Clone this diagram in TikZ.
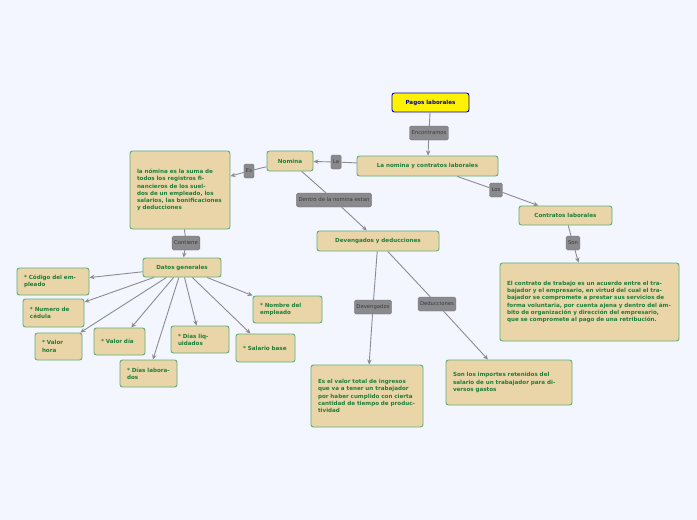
\documentclass[tikz,border=0pt]{standalone}
\usepackage{fontspec}
\setmainfont{DejaVu Sans}
\usetikzlibrary{arrows.meta}
\definecolor{bg}{HTML}{F3F6FE}
\definecolor{boxf}{HTML}{E9D5A8}
\definecolor{boxd}{HTML}{5DAF77}
\definecolor{txtg}{HTML}{1E7F3A}
\definecolor{lblf}{HTML}{8A8A8E}
\definecolor{lblt}{HTML}{3A3A3A}
\definecolor{edge}{HTML}{8C8C90}
\tikzset{
 bx/.style 2 args={draw=boxd,line width=0.9pt,fill=boxf,rounded corners=2.5pt,text=txtg,
   font=\fontsize{5.6}{7.2}\selectfont\bfseries,minimum width=#1,minimum height=#2,
   text width=#1-14,align=left,inner sep=0pt},
 bxc/.style 2 args={bx={#1}{#2},align=center},
 lbl/.style={fill=lblf,draw=lblf!80!black,line width=0.3pt,rounded corners=1.5pt,text=lblt,font=\fontsize{5.3}{6}\selectfont,inner sep=2pt,minimum height=14},
 ln/.style={draw=edge,line width=0.9pt},
 ar/.style={ln,-{Stealth[length=5pt,width=4.5pt]}},
}
\begin{document}
\begin{tikzpicture}[x=1pt,y=-1pt]
\fill[bg] (0,0) rectangle (697,520);
\useasboundingbox (0,0) rectangle (697,520);
\node[bxc={77}{19},draw=blue!70!black,fill=yellow,text=blue!60!black] (pagos) at (430.5,102.5) {Pagos laborales};
\node[lbl] (enc) at (429,133) {Encontramos};
\node[bxc={141}{20}] (lnc) at (427.5,166) {La nomina y contratos laborales};
\node[lbl] (la) at (336,162) {La};
\node[bxc={46}{20}] (nom) at (290,161) {Nomina};
\node[lbl] (es) at (249,171) {Es};
\node[bx={100}{78}] (def) at (180,190) {la nómina es la suma de todos los registros financieros de los sueldos de un empleado, los salarios, las bonificaciones y deducciones};
\node[lbl] (dentro) at (334,200) {Dentro de la nomina estan};
\node[bxc={122}{20}] (dyd) at (378,241) {Devengados y deducciones};
\node[lbl] (los) at (496,190) {Los};
\node[bxc={93}{19}] (con) at (565.5,215.5) {Contratos laborales};
\node[lbl] (son) at (573,243) {Son};
\node[bx={179}{78}] (cdef) at (589.5,302) {El contrato de trabajo es un acuerdo entre el trabajador y el empresario, en virtud del cual el trabajador se compromete a prestar sus servicios de forma voluntaria, por cuenta ajena y dentro del ámbito de organización y dirección del empresario, que se compromete al pago de una retribución.};
\node[lbl] (cont) at (186,243) {Contiene};
\node[bxc={78}{19}] (dat) at (182,267.5) {Datos generales};
\node[bx={72}{27}] (c1) at (53,281.5) {* Código del empleado};
\node[bx={61}{28}] (c2) at (53.5,313) {* Numero de cédula};
\node[bx={47}{27}] (c3) at (58.5,346.5) {* Valor hora};
\node[bx={51}{27}] (c4) at (119.5,341.5) {* Valor día};
\node[bx={57}{27}] (c5) at (148.5,373.5) {* Días laborados};
\node[bx={58}{27}] (c6) at (200,339.5) {* Días liquidados};
\node[bx={59}{28}] (c7) at (265.5,348) {* Salario base};
\node[bx={69}{27}] (c8) at (287.5,309.5) {* Nombre del empleado};
\node[lbl] (dev) at (373,307) {Devengados};
\node[lbl] (ded) at (437,304) {Deducciones};
\node[bx={112}{62}] (ddev) at (367,396) {Es el valor total de ingresos que va a tener un trabajador por haber cumplido con cierta cantidad de tiempo de productividad};
\node[bx={126}{45}] (dded) at (509,382.5) {Son los importes retenidos del\\ salario de un trabajador para diversos gastos};
\draw[ln] (pagos) -- (enc); \draw[ar] (enc) -- (lnc);
\draw[ln] (lnc) -- (la); \draw[ar] (la) -- (nom);
\draw[ln] (nom) -- (es); \draw[ar] (es) -- (def);
\draw[ln] (nom) -- (dentro); \draw[ar] (dentro) -- (dyd);
\draw[ln] (lnc) -- (los); \draw[ar] (los) -- (con);
\draw[ln] (con) -- (son); \draw[ar] (son) -- (cdef);
\draw[ln] (def) -- (cont); \draw[ar] (cont) -- (dat);
\foreach \c in {c1,c2,c3,c4,c5,c6,c7,c8} \draw[ar] (dat) -- (\c);
\draw[ln] (dyd) -- (dev); \draw[ar] (dev) -- (ddev);
\draw[ln] (dyd) -- (ded); \draw[ar] (ded) -- (dded);
\end{tikzpicture}
\end{document}
